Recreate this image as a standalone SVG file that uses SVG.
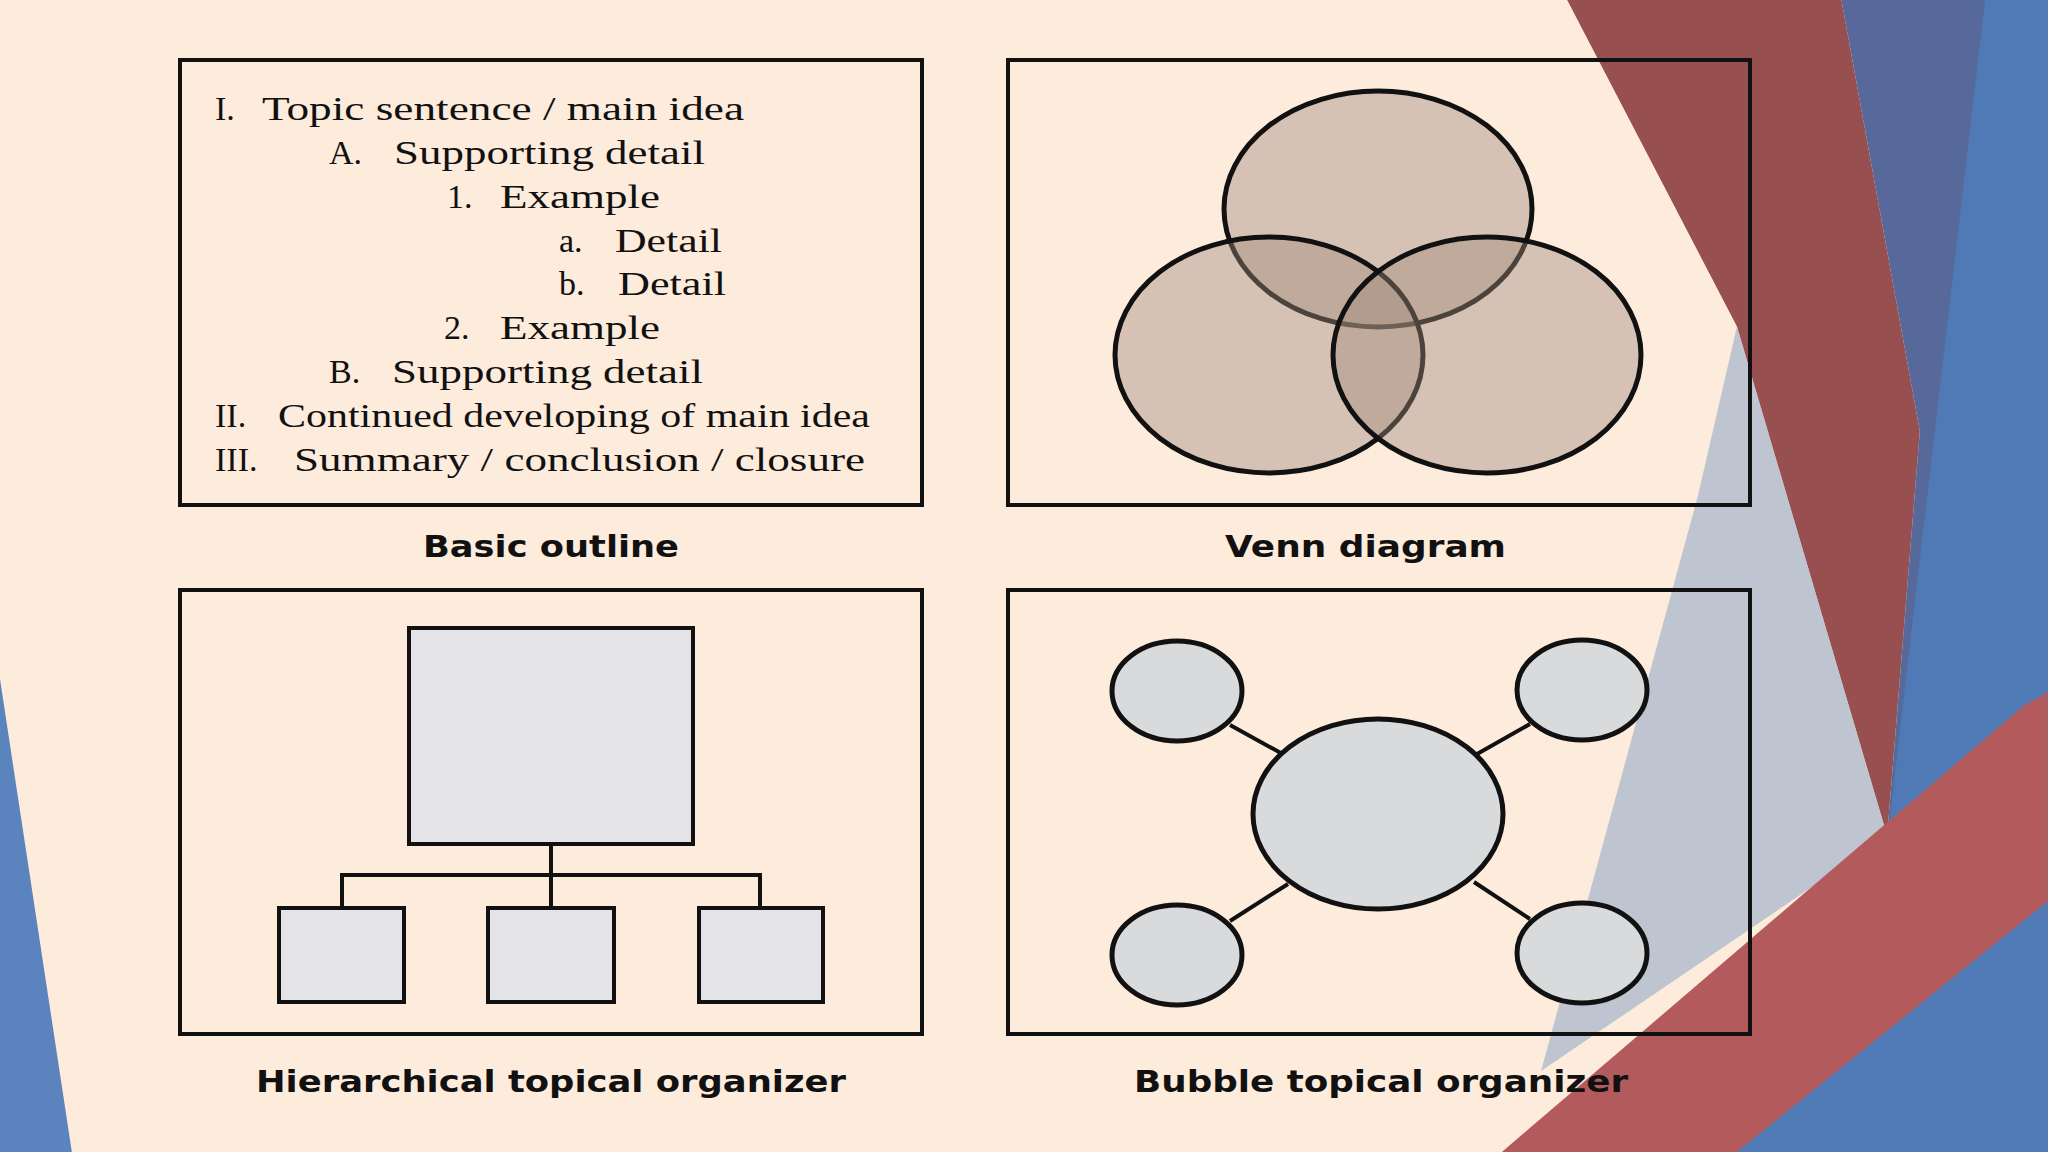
<svg xmlns="http://www.w3.org/2000/svg" width="2048" height="1152" viewBox="0 0 2048 1152">
<style>
.box{fill:none;stroke:#111;stroke-width:4}
.ol{font-family:"Liberation Serif",serif;font-size:34px;fill:#111}
.cap{font-family:"DejaVu Sans",sans-serif;font-weight:bold;font-size:30px;fill:#111}
.venn{fill:#a08b7c;fill-opacity:0.42;stroke:#111;stroke-width:5}
.nd{fill:#e4e4e8;stroke:#111;stroke-width:4}
.bub{fill:#d8dadc;stroke:#111;stroke-width:5}
.cn{fill:none;stroke:#111;stroke-width:4}
</style>
<rect width="2048" height="1152" fill="#fdebdc"/>
<g id="background" transform="scale(1.306)">
<polygon points="0,520 55,882 0,882" fill="#5b84bf"/>
<polygon points="1200,0 1410,0 1470,330 1445,640 1330,250" fill="#984f4f"/>
<polygon points="1410,0 1568,0 1568,882 1330,882 1445,640 1470,330" fill="#56699a"/>
<polygon points="1520,0 1568,0 1568,882 1420,882 1450,600" fill="#4f7ab5"/>
<polygon points="1330,250 1445,640 1180,820 1300,380" fill="#a9b8cc" opacity="0.75"/>
<polygon points="1150,882 1550,540 1568,530 1568,700 1330,882" fill="#b35b5c"/>
<polygon points="1330,882 1568,690 1568,882" fill="#4f7ab5"/>
</g>
<g id="basic-outline">
<rect class="box" x="180" y="60" width="742" height="445"/>
<text class="ol" x="215" y="120">I.</text><text class="ol" x="262" y="120" textLength="482" lengthAdjust="spacingAndGlyphs">Topic sentence / main idea</text>
<text class="ol" x="329" y="164">A.</text><text class="ol" x="394" y="164" textLength="311" lengthAdjust="spacingAndGlyphs">Supporting detail</text>
<text class="ol" x="447" y="208">1.</text><text class="ol" x="500" y="208" textLength="160" lengthAdjust="spacingAndGlyphs">Example</text>
<text class="ol" x="559" y="252">a.</text><text class="ol" x="615" y="252" textLength="107" lengthAdjust="spacingAndGlyphs">Detail</text>
<text class="ol" x="559" y="295">b.</text><text class="ol" x="618" y="295" textLength="108" lengthAdjust="spacingAndGlyphs">Detail</text>
<text class="ol" x="444" y="339">2.</text><text class="ol" x="500" y="339" textLength="160" lengthAdjust="spacingAndGlyphs">Example</text>
<text class="ol" x="329" y="383">B.</text><text class="ol" x="392" y="383" textLength="311" lengthAdjust="spacingAndGlyphs">Supporting detail</text>
<text class="ol" x="215" y="427">II.</text><text class="ol" x="278" y="427" textLength="592" lengthAdjust="spacingAndGlyphs">Continued developing of main idea</text>
<text class="ol" x="215" y="471">III.</text><text class="ol" x="294" y="471" textLength="571" lengthAdjust="spacingAndGlyphs">Summary / conclusion / closure</text>
<text class="cap" x="423" y="557" textLength="256" lengthAdjust="spacingAndGlyphs">Basic outline</text>
</g>
<g id="venn-diagram">
<rect class="box" x="1008" y="60" width="742" height="445"/>
<ellipse class="venn" cx="1378" cy="209" rx="154" ry="118"/>
<ellipse class="venn" cx="1269" cy="355" rx="154" ry="118"/>
<ellipse class="venn" cx="1487" cy="355" rx="154" ry="118"/>
<text class="cap" x="1225" y="557" textLength="281" lengthAdjust="spacingAndGlyphs">Venn diagram</text>
</g>
<g id="hierarchical-organizer">
<rect class="box" x="180" y="590" width="742" height="444"/>
<g id="connectors-h">
<path class="cn" d="M551,844 V875 M342,908 V875 H760 V908 M551,875 V908"/>
</g>
<rect class="nd" x="409" y="628" width="284" height="216"/>
<rect class="nd" x="279" y="908" width="125" height="94"/>
<rect class="nd" x="488" y="908" width="126" height="94"/>
<rect class="nd" x="699" y="908" width="124" height="94"/>
<text class="cap" x="256" y="1092" textLength="590" lengthAdjust="spacingAndGlyphs">Hierarchical topical organizer</text>
</g>
<g id="bubble-organizer">
<rect class="box" x="1008" y="590" width="742" height="444"/>
<g id="connectors-b">
<path class="cn" d="M1230,725 L1288,757 M1530,724 L1470,758 M1230,921 L1288,884 M1530,919 L1474,882"/>
</g>
<ellipse class="bub" cx="1378" cy="814" rx="125" ry="95"/>
<ellipse class="bub" cx="1177" cy="691" rx="65" ry="50"/>
<ellipse class="bub" cx="1582" cy="690" rx="65" ry="50"/>
<ellipse class="bub" cx="1177" cy="955" rx="65" ry="50"/>
<ellipse class="bub" cx="1582" cy="953" rx="65" ry="50"/>
<text class="cap" x="1134" y="1092" textLength="494" lengthAdjust="spacingAndGlyphs">Bubble topical organizer</text>
</g>
</svg>
